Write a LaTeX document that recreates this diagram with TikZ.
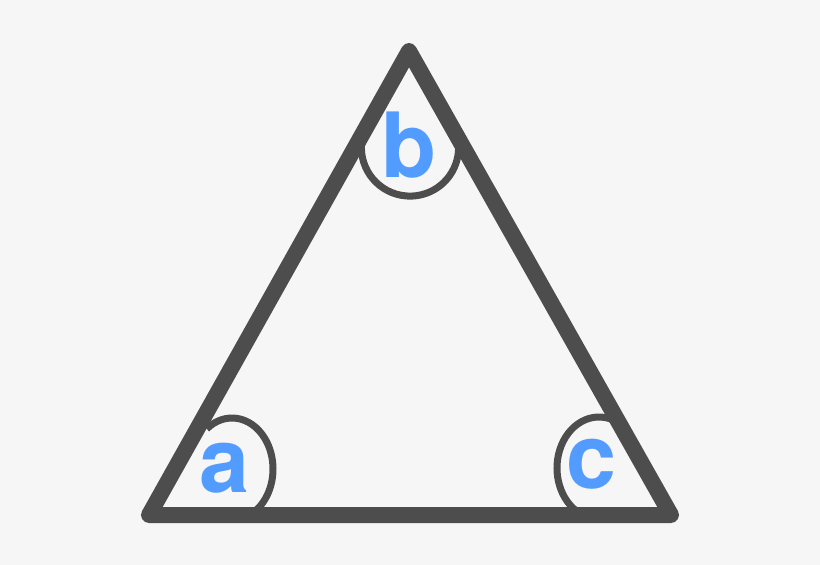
\documentclass[tikz,border=0pt]{standalone}
\usepackage{fontspec}
\setmainfont{TeX Gyre Heros}
\usepackage{tikz}
\definecolor{edgegray}{HTML}{4D4D4D}
\definecolor{letterblue}{HTML}{539CFF}
\definecolor{paper}{HTML}{F6F6F6}
\tikzset{side/.style={draw=edgegray,line width=16pt,line join=round,line cap=round},
  anglearc/.style={draw=edgegray,line width=7pt},
  anglename/.style={anchor=base,inner sep=0pt,text=letterblue,font=\bfseries\fontsize{90}{90}\selectfont}}

\begin{document}
\begin{tikzpicture}[x=1pt,y=-1pt]
\fill[paper](0,0)rectangle(820,565);
\useasboundingbox (0,0) rectangle (820,565);
\coordinate (A) at (149,515);
\coordinate (B) at (409,51);
\coordinate (C) at (671,515);
% centres of the angle arcs
\coordinate (oa) at (232,469);
\coordinate (ob) at (410,147.5);
\coordinate (oc) at (599,468);
\draw[anglearc](oa) ++(128:41pt and 51pt) arc[start angle=128,end angle=-60,x radius=41pt,y radius=51pt];
\draw[anglearc](ob) ++(175:48.6pt) arc[start angle=175,end angle=365,radius=48.6pt];
\draw[anglearc](oc) ++(70:42pt and 51pt) arc[start angle=70,end angle=240,x radius=42pt,y radius=51pt];
\draw[side](A)--(B)--(C)--cycle;
\node[anglename] (a) at (225,492) {a};
\node[anglename] (b) at (409,177) {b};
\node[anglename] (c) at (592,488) {c};
\end{tikzpicture}
\end{document}
